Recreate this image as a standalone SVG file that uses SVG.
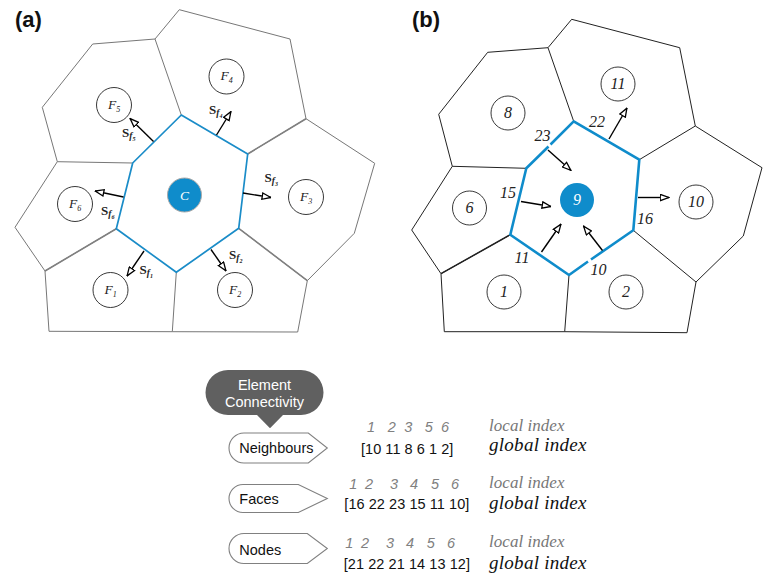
<svg xmlns="http://www.w3.org/2000/svg" width="771" height="586" viewBox="0 0 771 586">
<style>
.mg{fill:none;stroke:#777;stroke-width:1;stroke-linejoin:round}
.mgt{fill:none;stroke:#808080;stroke-width:1.6}
.mk{fill:none;stroke:#222;stroke-width:1;stroke-linejoin:round}
.mkt{fill:none;stroke:#222;stroke-width:1.5}
.ha{fill:none;stroke:#1a8cc8;stroke-width:1.7;stroke-linejoin:round}
.hb{fill:none;stroke:#0f8ccb;stroke-width:2.6;stroke-linejoin:round}
.ar{fill:none;stroke:#000;stroke-width:1.4;marker-end:url(#ah)}
.c{fill:#fff;stroke:#222;stroke-width:.9}
.cl{font:italic 13.5px "Liberation Serif",serif;fill:#222;text-anchor:middle}
.sub{font-size:8px}
.s{font:bold 13px "Liberation Serif",serif;fill:#222}
.sf{font-size:9.5px;font-style:italic}
.sd{font-size:6px;font-style:italic}
.n{font:italic 16px "Liberation Serif",serif;fill:#222;text-anchor:middle}
.pn{font:bold 22px "Liberation Sans",sans-serif;fill:#111}
.tag{fill:#fff;stroke:#808080;stroke-width:1.1}
.tt{font:14.500px "Liberation Sans",sans-serif;fill:#111}
.bt{font:14.500px "Liberation Sans",sans-serif;fill:#fff;text-anchor:middle}
.li{font:italic 14.500px "Liberation Sans",sans-serif;fill:#808080;text-anchor:middle}
.gi{font:14.500px "Liberation Sans",sans-serif;fill:#111}
.ll{font:italic 17px "Liberation Serif",serif;fill:#777}
.gl{font:italic 19px "Liberation Serif",serif;fill:#111}
</style>
<defs>
<marker id="ah" viewBox="0 0 10 8" refX="9.5" refY="4" markerWidth="10" markerHeight="8" markerUnits="userSpaceOnUse" orient="auto"><path d="M.7 .8L9.3 4L.7 7.2Z" fill="#fff" stroke="#000" stroke-width="1.3"/></marker>
</defs>
<text id="label-a" class="pn" x="15" y="27">(a)</text>
<text id="label-b" class="pn" x="412" y="27">(b)</text>
<g id="connectors">
<g id="mesh-a">
<path class="mg" d="M181.3 115L155 39L179.3 9.700L290 39L306 118.700L247.700 154M306 118.700L374.700 163.300L354.300 233.300L307.300 280.700L238.700 228.300M307.300 280.700L297.700 332L172.300 331.700L176.300 272.300M172.300 331.700L49 331.300L45 271L116.300 228.700M45 271L15 227.300L57.300 161.700L132.700 163M57.300 161.700L42.300 107.300L92.700 44L155 39"/>
<path class="mgt" d="M306 118.700L247.700 154M307.300 280.700L238.700 228.300M45 271L116.300 228.700"/>
</g>
<path id="hex-a" class="ha" d="M181.300 115L247.700 154L238.700 228.300L176.300 272.300L116.300 228.700L132.700 163Z"/>
<g id="arrows-a">
<path class="ar" d="M153.500 141.500L130 118.500"/>
<path class="ar" d="M216.500 135L231 111.500"/>
<path class="ar" d="M243 193L271 197.500"/>
<path class="ar" d="M211 249.500L226 271"/>
<path class="ar" d="M144 251L127 276"/>
<path class="ar" d="M123.500 197L95 191"/>
</g>
<g id="mesh-b">
<path class="mk" d="M573.700 121.300L548 47.700L571.700 19.300L679.700 47.700L695.300 126L639.300 159.700M695.300 126L762 167.700L743.300 236L696 282L633.300 230.300M696 282L687 332.700L564.700 331.700L569 275M564.700 331.700L444.300 331.700L441 273.700L510.300 234.700M441 273.700L411.700 230L452.300 166.300L526.300 168.300M452.300 166.300L438.700 114.300L487.700 52.300L548 47.700"/>
<path class="mkt" d="M441 273.700L510.300 234.700"/>
</g>
<path id="hex-b" class="hb" d="M550.500 144.500L573.700 121.300L639.300 159.700L633.300 230.300L591 259.500M588 261.500L569 275L510.300 234.700L526.300 168.300L548.500 146.500"/>
<g id="arrows-b">
<path class="ar" d="M548 150L571 170.500"/>
<path class="ar" d="M609 139L627 108"/>
<path class="ar" d="M638 197.500L669 197.500"/>
<path class="ar" d="M602.500 250.500L583.500 226"/>
<path class="ar" d="M541.500 252L561 224"/>
<path class="ar" d="M521 201.500L551 206.500"/>
</g>
</g>
<g id="a-C"><circle cx="184.500" cy="195" r="17" fill="#0f8ccb" stroke="#aaa" stroke-width="1"/><text x="184.500" y="199.500" class="cl" style="fill:#fff">C</text></g>
<g id="a-F1"><circle class="c" cx="110.500" cy="290" r="17.500"/><text x="110.500" y="294" class="cl">F<tspan class="sub" dy="2.500">1</tspan></text></g>
<g id="a-F2"><circle class="c" cx="235" cy="290" r="17.500"/><text x="235" y="294" class="cl">F<tspan class="sub" dy="2.500">2</tspan></text></g>
<g id="a-F3"><circle class="c" cx="306" cy="197" r="17.500"/><text x="306" y="201" class="cl">F<tspan class="sub" dy="2.500">3</tspan></text></g>
<g id="a-F4"><circle class="c" cx="226.500" cy="76.500" r="17.500"/><text x="226.500" y="80" class="cl">F<tspan class="sub" dy="2.500">4</tspan></text></g>
<g id="a-F5"><circle class="c" cx="114" cy="105" r="17.500"/><text x="114" y="109" class="cl">F<tspan class="sub" dy="2.500">5</tspan></text></g>
<g id="a-F6"><circle class="c" cx="75" cy="204" r="17.500"/><text x="75" y="208" class="cl">F<tspan class="sub" dy="2.500">6</tspan></text></g>
<g id="a-labels">
<text class="s" x="122" y="137">S<tspan class="sf" dy="2">f</tspan><tspan class="sd" dy="1.500">5</tspan></text>
<text class="s" x="209" y="114">S<tspan class="sf" dy="2">f</tspan><tspan class="sd" dy="1.500">4</tspan></text>
<text class="s" x="264.500" y="182">S<tspan class="sf" dy="2">f</tspan><tspan class="sd" dy="1.500">3</tspan></text>
<text class="s" x="229" y="259">S<tspan class="sf" dy="2">f</tspan><tspan class="sd" dy="1.500">2</tspan></text>
<text class="s" x="139.500" y="274">S<tspan class="sf" dy="2">f</tspan><tspan class="sd" dy="1.500">1</tspan></text>
<text class="s" x="101" y="215">S<tspan class="sf" dy="2">f</tspan><tspan class="sd" dy="1.500">6</tspan></text>
</g>
<g id="b-9"><circle cx="577" cy="200" r="17" fill="#0f8ccb"/><text x="577" y="205" class="n" style="fill:#fff">9</text></g>
<g id="b-1"><circle class="c" cx="504" cy="292" r="17"/><text x="504" y="297" class="n">1</text></g>
<g id="b-2"><circle class="c" cx="626" cy="292" r="17"/><text x="626" y="297" class="n">2</text></g>
<g id="b-10"><circle class="c" cx="696" cy="202" r="17"/><text x="696" y="207" class="n">10</text></g>
<g id="b-11"><circle class="c" cx="618" cy="84" r="17"/><text x="618" y="89" class="n">11</text></g>
<g id="b-8"><circle class="c" cx="508" cy="113" r="17"/><text x="508" y="118" class="n">8</text></g>
<g id="b-6"><circle class="c" cx="469.500" cy="208" r="17"/><text x="469.500" y="213" class="n">6</text></g>
<g id="b-labels">
<text class="n" x="542.500" y="141">23</text>
<text class="n" x="597" y="127">22</text>
<text class="n" x="508" y="198">15</text>
<text class="n" x="645" y="224">16</text>
<text class="n" x="522" y="263">11</text>
<text class="n" x="598.500" y="275">10</text>
</g>
<g id="element-connectivity">
<path d="M227 370H301A22.500 22.500 0 0 1 301 415H283L270 428.300L257 415H228A22.500 22.500 0 0 1 228 370Z" fill="#606060"/>
<text class="bt" x="264.500" y="390">Element</text>
<text class="bt" x="264.500" y="407">Connectivity</text>
</g>
<g id="neighbours">
<path class="tag" d="M244 433H308.300L327.300 448L308.300 463H244A15 15 0 0 1 244 433Z"/>
<text class="tt" x="239.300" y="453">Neighbours</text>
</g>
<g id="faces">
<path class="tag" d="M243 484.500H298.300L327.300 498.500L298.300 512.500H243A14 14 0 0 1 243 484.500Z"/>
<text class="tt" x="239.300" y="504">Faces</text>
</g>
<g id="nodes">
<path class="tag" d="M244 533.500H307.300L327.300 548.500L307.300 563.500H244A15 15 0 0 1 244 533.500Z"/>
<text class="tt" x="239.300" y="555">Nodes</text>
</g>
<g id="neighbours-index">
<text class="li" y="431.500"><tspan x="371">1</tspan><tspan x="391.700">2</tspan><tspan x="408.300">3</tspan><tspan x="428.700">5</tspan><tspan x="445">6</tspan></text>
<text class="gi" x="361" y="454" textLength="92.300">[10 11 8 6 1 2]</text>
<text class="ll" x="489" y="430.700" textLength="75.500">local index</text>
<text class="gl" x="489" y="451" textLength="97.500">global index</text>
</g>
<g id="faces-index">
<text class="li" y="489"><tspan x="353.300">1</tspan><tspan x="369">2</tspan><tspan x="394">3</tspan><tspan x="414">4</tspan><tspan x="435">5</tspan><tspan x="455">6</tspan></text>
<text class="gi" x="344.300" y="509" textLength="125">[16 22 23 15 11 10]</text>
<text class="ll" x="489" y="487.700" textLength="75.500">local index</text>
<text class="gl" x="489" y="509" textLength="97.500">global index</text>
</g>
<g id="nodes-index">
<text class="li" y="548.300"><tspan x="349.300">1</tspan><tspan x="365">2</tspan><tspan x="390">3</tspan><tspan x="410">4</tspan><tspan x="430.700">5</tspan><tspan x="451">6</tspan></text>
<text class="gi" x="343.700" y="569.300" textLength="126.300">[21 22 21 14 13 12]</text>
<text class="ll" x="489" y="546.700" textLength="75.500">local index</text>
<text class="gl" x="489" y="569.300" textLength="97.500">global index</text>
</g>
</svg>
